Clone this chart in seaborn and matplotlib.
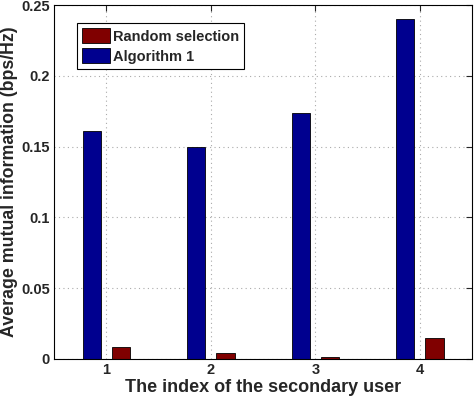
import pandas as pd
import seaborn as sns
import matplotlib.pyplot as plt
from matplotlib.patches import Patch

users = [1, 2, 3, 4]
algorithm_1 = [0.161, 0.150, 0.174, 0.240]
random_selection = [0.0085, 0.004, 0.0012, 0.015]

df = pd.DataFrame({
    "user": users * 2,
    "value": algorithm_1 + random_selection,
    "method": ["Algorithm 1"] * 4 + ["Random selection"] * 4,
})

blue = (0, 0, 0.5625)
red = (0.5, 0, 0)

sns.set_style("white")
plt.rcParams["font.family"] = ["Liberation Sans", "DejaVu Sans"]
plt.rcParams["font.weight"] = "bold"

fig = plt.figure(figsize=(4.74, 3.98), dpi=100)
ax = fig.add_axes([0.114, 0.098, 0.882, 0.889])

sns.barplot(data=df, x="user", y="value", hue="method",
            hue_order=["Algorithm 1", "Random selection"],
            palette=[blue, red], saturation=1, width=0.56, gap=0.375,
            edgecolor="black", linewidth=0.6, native_scale=True,
            legend=False, ax=ax)

ax.set_xlim(0.5, 4.5)
ax.set_ylim(0, 0.25)
ax.set_xticks(users)
ax.set_xticklabels([str(u) for u in users])
ax.set_yticks([0, 0.05, 0.1, 0.15, 0.2, 0.25])
ax.set_yticklabels(["0", "0.05", "0.1", "0.15", "0.2", "0.25"])
ax.grid(True, linestyle=(0, (1, 3)), color="#aaaaaa", linewidth=0.8)
ax.set_axisbelow(True)
for s in ax.spines.values():
    s.set_color("black")
    s.set_linewidth(0.8)
ax.tick_params(direction="in", top=True, right=True, length=4,
               labelsize=10.5, width=0.8, pad=3)
for lab in ax.get_xticklabels() + ax.get_yticklabels():
    lab.set_fontweight("bold")

ax.set_xlabel("The index of the secondary user", fontsize=13,
              fontweight="bold", labelpad=1)
ax.set_ylabel("Average mutual information (bps/Hz)", fontsize=12.8,
              fontweight="bold")
ax.yaxis.set_label_coords(-0.086, 0.5)

handles = [Patch(facecolor=red, edgecolor="black", linewidth=0.6),
           Patch(facecolor=blue, edgecolor="black", linewidth=0.6)]
leg = ax.legend(handles, ["Random selection", "Algorithm 1"],
                loc="upper left", bbox_to_anchor=(0.055, 0.95),
                frameon=True, fancybox=False, framealpha=1,
                edgecolor="black", borderpad=0.35, handlelength=1.9,
                handleheight=1.25, handletextpad=0.2, labelspacing=0.3,
                borderaxespad=0, prop={"size": 10.5, "weight": "bold"})
leg.get_frame().set_linewidth(0.8)

plt.savefig("out.png", dpi=100)
